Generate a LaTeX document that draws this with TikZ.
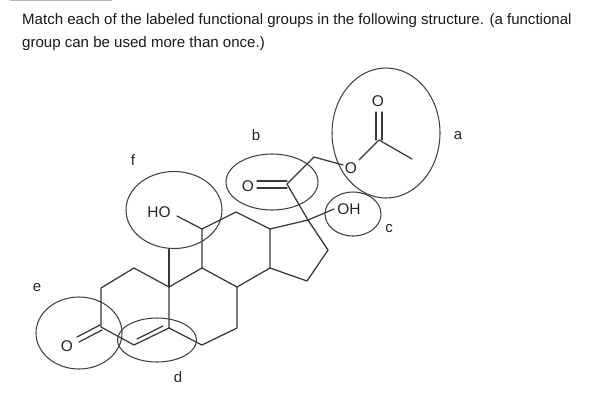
\documentclass[tikz,border=0pt]{standalone}
\usepackage{fontspec}
\setmainfont{Liberation Sans}
\usetikzlibrary{shapes.geometric}
\tikzset{
  lbl/.style={inner sep=0pt,font=\fontsize{15}{17}\selectfont,text=black!85},
  para/.style={inner sep=0pt,anchor=base west,font=\fontsize{15.05}{17}\selectfont,text=black!90},
  atomtxt/.style={inner sep=0pt,font=\fontsize{15.5}{17}\selectfont,text=black!85},
  bond/.style={draw=black!78,line width=1.25pt,line cap=round,line join=round},
  ring/.style={draw=black!75,line width=1.05pt,ellipse,inner sep=0pt,fill=none}
}
\begin{document}
\begin{tikzpicture}[x=1pt,y=-1pt]
\useasboundingbox (0,0) rectangle (604,413);
\coordinate (tl) at (10,0.4); \coordinate (tr) at (112,0.4);
\draw[black!30,line width=0.8pt] (tl) -- (tr);
\node[para] (q1) at (22,24) {Match each of the labeled functional groups in the following structure. (a functional};
\node[para] (q2) at (22,47) {group can be used more than once.)};
% atoms
\foreach \n/\x/\y in {a1/134/268,a2/169/287,a3/169/328,a4/134/345,a5/101/327,a6/101/288,
  b1/202/268,b2/237/287,b3/237/328,b4/202/345,
  c1/202/229,c2/236/212,c3/270/229,c4/270/268,
  d1/308/220,d2/328/250,d3/307/281,
  me/169/249,hoe/177/216,ohe/334/209,
  k/287/184,ko1/257/181,ko2/287/181,ko3/257/188,ko4/287/188,
  ch/314/157,oe/343/165,e1/359/160,e2/379/140,e3/412/159,
  u1/376/112,u2/376/140,u3/382/112,u4/382/140,
  ia/137/339,ib/163/326,
  p1/77/337,p2/100/325,p3/79/342,p4/102/330}
  {\coordinate (\n) at (\x,\y);}
% rings
\draw[bond] (a6) -- (a1) -- (a2) -- (a3) -- (a4) -- (a5) -- cycle;
\draw[bond] (a2) -- (b1) -- (b2) -- (b3) -- (b4) -- (a3);
\draw[bond] (b1) -- (c1) -- (c2) -- (c3) -- (c4) -- (b2);
\draw[bond] (c3) -- (d1) -- (d2) -- (d3) -- (c4);
\draw[bond] (ia) -- (ib);
\draw[bond] (p1) -- (p2);
\draw[bond] (p3) -- (p4);
\draw[bond] (me) -- (a2);
\draw[bond] (hoe) -- (c1);
\draw[bond] (d1) -- (ohe);
\draw[bond] (d1) -- (k) -- (ch) -- (oe);
\draw[bond] (ko1) -- (ko2);
\draw[bond] (ko3) -- (ko4);
\draw[bond] (e1) -- (e2) -- (e3);
\draw[bond] (u1) -- (u2);
\draw[bond] (u3) -- (u4);
% atom labels
\node[atomtxt] (oa) at (378,101) {O};
\node[atomtxt] (ob) at (351,168) {O};
\node[atomtxt] (oc) at (248,186) {O};
\node[atomtxt] (oh) at (349,209) {OH};
\node[atomtxt] (ho) at (159,212) {HO};
\node[atomtxt] (od) at (67,346) {O};
% ellipses
\node[ring,minimum width=108pt,minimum height=130pt] (ea) at (386,133) {};
\node[ring,minimum width=92pt,minimum height=56pt] (eb) at (272,182) {};
\node[ring,minimum width=56pt,minimum height=44pt] (ec) at (353,214) {};
\node[ring,minimum width=79pt,minimum height=44pt] (ed) at (157,340) {};
\node[ring,minimum width=86pt,minimum height=72pt] (ee) at (79,333) {};
\node[ring,minimum width=96pt,minimum height=77pt] (ef) at (174,210) {};
% letters
\node[lbl] (la) at (458,136) {a};
\node[lbl] (lb) at (256,135) {b};
\node[lbl] (lc) at (389,229) {c};
\node[lbl] (ld) at (178,377) {d};
\node[lbl] (le) at (37,288) {e};
\node[lbl] (lf) at (133,160) {f};
\end{tikzpicture}
\end{document}
